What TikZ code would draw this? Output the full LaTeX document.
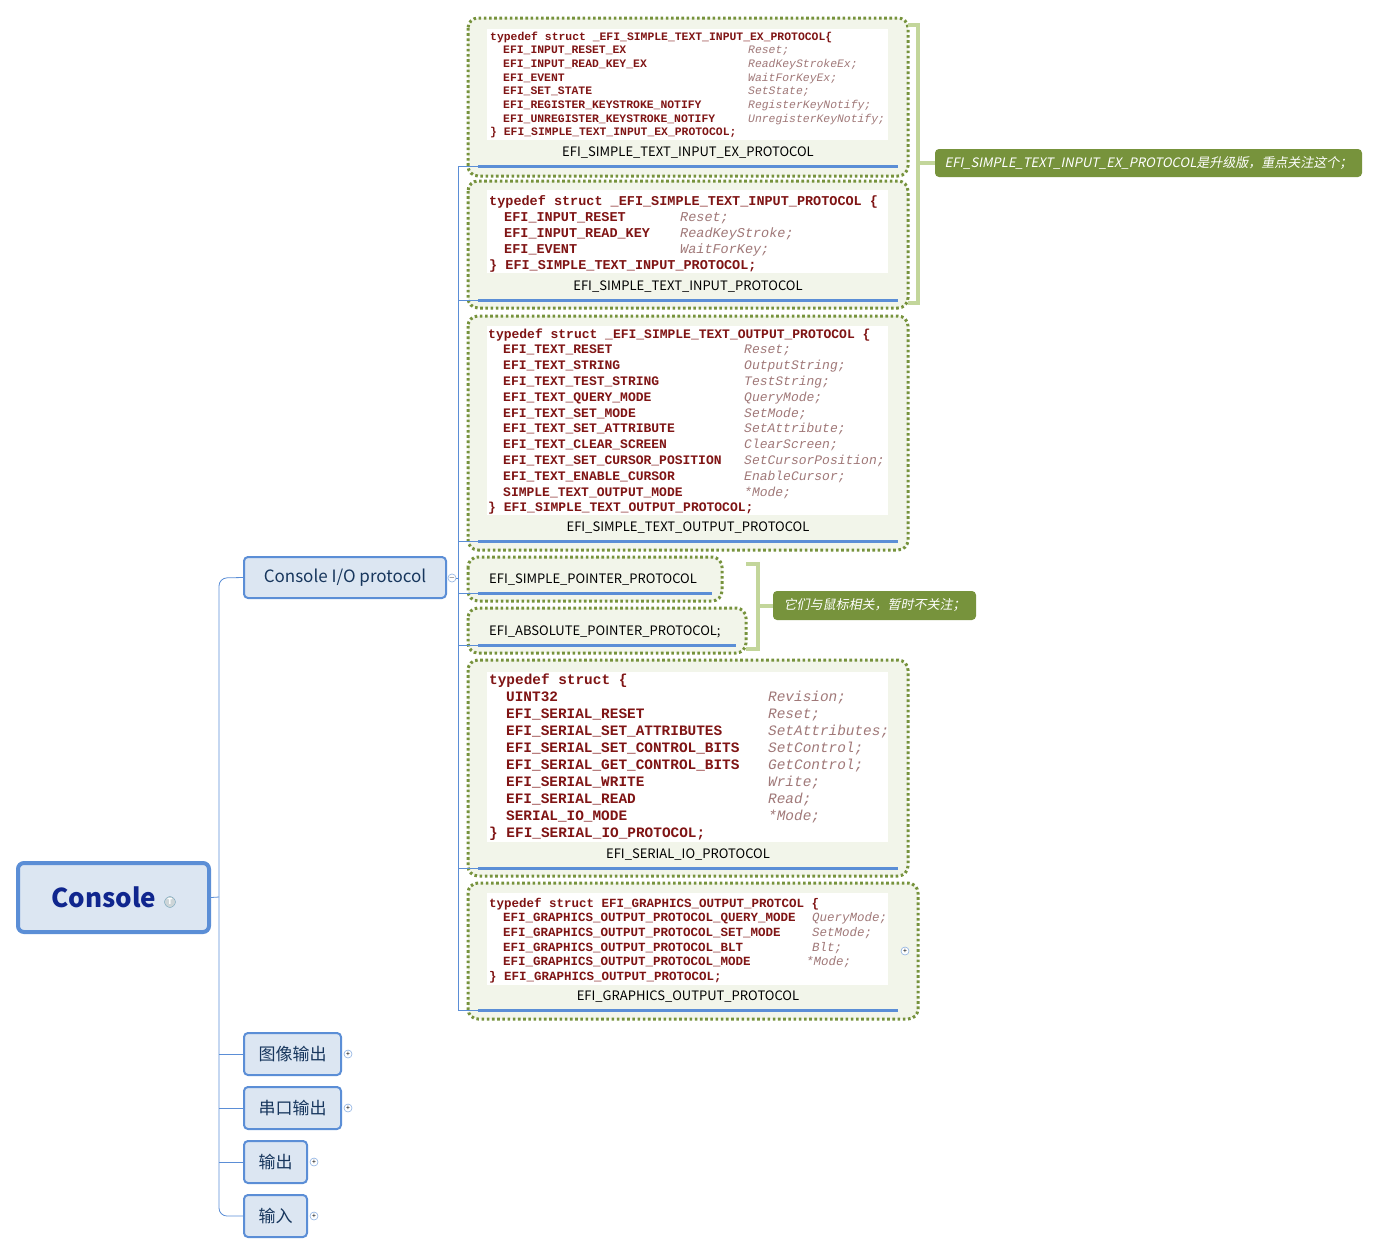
\documentclass[tikz,border=0pt]{standalone}
\usepackage{fontspec}
\setmainfont{Noto Sans CJK SC}
\setmonofont{Liberation Mono}
\newfontfamily\cjki{Noto Sans CJK SC}[FakeSlant=0.2]
\definecolor{codered}{HTML}{7F1414}
\definecolor{codeval}{HTML}{A07878}
\definecolor{boxfill}{HTML}{F2F5EA}
\definecolor{boxline}{HTML}{76923C}
\definecolor{blueline}{HTML}{5B8ED6}
\definecolor{nodefill}{HTML}{DCE6F2}
\definecolor{nodetext}{HTML}{17365D}
\definecolor{brace}{HTML}{C3D69B}
\definecolor{callout}{HTML}{77933C}
\newcommand{\cf}[1]{\fontsize{#1}{#1}\selectfont\ttfamily}
\begin{document}
\begin{tikzpicture}[x=1pt,y=-1pt,
  pbox/.style={draw=boxline,fill=boxfill,line width=3pt,dash pattern=on 2.6pt off 2.6pt,rounded corners=10pt},
  white/.style={fill=white,draw=none},
  uline/.style={draw=blueline,line width=3pt},
  conn/.style={draw=blueline,line width=0.8pt},
  lab/.style={font=\fontsize{13}{13}\selectfont,anchor=center,inner sep=0},
  nm/.style={anchor=base west,inner sep=0,text=codered,font=\bfseries},
  vl/.style={anchor=base west,inner sep=0,text=codeval,font=\itshape},
  topic/.style={draw=blueline,fill=nodefill,line width=2pt,rounded corners=4pt,text=nodetext,inner sep=0,font=\fontsize{17}{17}\selectfont},
  tog/.style={circle,draw=blueline!70,fill=white,inner sep=0,minimum size=8pt,line width=0.6pt,font=\fontsize{7}{7}\selectfont},
  br/.style={draw=brace,line width=4pt},
  co/.style={fill=callout,rounded corners=4pt,text=white,font=\cjki\fontsize{13}{13}\selectfont,inner sep=0}
]
\useasboundingbox (0,0) rectangle (1379,1253);
% ---- boxes
\draw[pbox] (468,18) rectangle (908,176);
\fill[white] (487,29) rectangle (888,140);
\draw[pbox] (468,181) rectangle (908,308);
\fill[white] (487,190) rectangle (888,273);
\draw[pbox] (468,316) rectangle (908,550);
\fill[white] (487,326) rectangle (888,515);
\draw[pbox] (468,557) rectangle (722,601);
\draw[pbox] (468,608) rectangle (746,653);
\draw[pbox] (468,660) rectangle (908,876);
\fill[white] (487,672) rectangle (888,842);
\draw[pbox] (468,883) rectangle (918,1019);
\fill[white] (487,893) rectangle (888,985);

% ---- box 1 code
\begin{scope}[every node/.append style={font=\cf{11.4}}]
\node[nm] (b1t) at (490,40) {\cf{11.4}\bfseries typedef struct \_EFI\_SIMPLE\_TEXT\_INPUT\_EX\_PROTOCOL\{};
\foreach \n/\v [count=\i] in {EFI\_INPUT\_RESET\_EX/Reset;,EFI\_INPUT\_READ\_KEY\_EX/ReadKeyStrokeEx;,EFI\_EVENT/WaitForKeyEx;,EFI\_SET\_STATE/SetState;,EFI\_REGISTER\_KEYSTROKE\_NOTIFY/RegisterKeyNotify;,EFI\_UNREGISTER\_KEYSTROKE\_NOTIFY/UnregisterKeyNotify;}{
  \node[nm] (b1n\i) at (503,{40+\i*13.7}) {\cf{11.4}\bfseries\n};
  \node[vl] (b1v\i) at (748,{40+\i*13.7}) {\cf{11.4}\itshape\v};
}
\node[nm] (b1e) at (490,{40+7*13.7}) {\cf{11.4}\bfseries\} EFI\_SIMPLE\_TEXT\_INPUT\_EX\_PROTOCOL;};
\end{scope}
\node[lab] (l1) at (688,153) {EFI\_SIMPLE\_TEXT\_INPUT\_EX\_PROTOCOL};
\draw[uline] (478,166) -- (898,166);

% ---- box 2
\node[nm] (b2t) at (489,205) {\cf{13.5}\bfseries typedef struct \_EFI\_SIMPLE\_TEXT\_INPUT\_PROTOCOL \{};
\foreach \n/\v [count=\i] in {EFI\_INPUT\_RESET/Reset;,EFI\_INPUT\_READ\_KEY/ReadKeyStroke;,EFI\_EVENT/WaitForKey;}{
  \node[nm] (b2n\i) at (504,{205+\i*16}) {\cf{13.5}\bfseries\n};
  \node[vl] (b2v\i) at (680,{205+\i*16}) {\cf{13.5}\itshape\v};
}
\node[nm] (b2e) at (489,{205+4*16}) {\cf{13.5}\bfseries\} EFI\_SIMPLE\_TEXT\_INPUT\_PROTOCOL;};
\node[lab] (l2) at (688,287) {EFI\_SIMPLE\_TEXT\_INPUT\_PROTOCOL};
\draw[uline] (478,300) -- (898,300);

% ---- box 3
\node[nm] (b3t) at (488,338) {\cf{13}\bfseries typedef struct \_EFI\_SIMPLE\_TEXT\_OUTPUT\_PROTOCOL \{};
\foreach \n/\v [count=\i] in {EFI\_TEXT\_RESET/Reset;,EFI\_TEXT\_STRING/OutputString;,EFI\_TEXT\_TEST\_STRING/TestString;,EFI\_TEXT\_QUERY\_MODE/QueryMode;,EFI\_TEXT\_SET\_MODE/SetMode;,EFI\_TEXT\_SET\_ATTRIBUTE/SetAttribute;,EFI\_TEXT\_CLEAR\_SCREEN/ClearScreen;,EFI\_TEXT\_SET\_CURSOR\_POSITION/SetCursorPosition;,EFI\_TEXT\_ENABLE\_CURSOR/EnableCursor;,SIMPLE\_TEXT\_OUTPUT\_MODE/*Mode;}{
  \node[nm] (b3n\i) at (503,{338+\i*15.8}) {\cf{13}\bfseries\n};
  \node[vl] (b3v\i) at (744,{338+\i*15.8}) {\cf{13}\itshape\v};
}
\node[nm] (b3e) at (488,{338+11*15.8}) {\cf{13}\bfseries\} EFI\_SIMPLE\_TEXT\_OUTPUT\_PROTOCOL;};
\node[lab] (l3) at (688,528) {EFI\_SIMPLE\_TEXT\_OUTPUT\_PROTOCOL};
\draw[uline] (478,541) -- (898,541);

% ---- box 4,5
\node[lab,anchor=west] (l4) at (489,580) {EFI\_SIMPLE\_POINTER\_PROTOCOL};
\draw[uline] (478,593) -- (712,593);
\node[lab,anchor=west] (l5) at (489,632) {EFI\_ABSOLUTE\_POINTER\_PROTOCOL;};
\draw[uline] (478,645) -- (736,645);

% ---- box 6
\node[nm] (b6t) at (489,684) {\cf{14.4}\bfseries typedef struct \{};
\foreach \n/\v [count=\i] in {UINT32/Revision;,EFI\_SERIAL\_RESET/Reset;,EFI\_SERIAL\_SET\_ATTRIBUTES/SetAttributes;,EFI\_SERIAL\_SET\_CONTROL\_BITS/SetControl;,EFI\_SERIAL\_GET\_CONTROL\_BITS/GetControl;,EFI\_SERIAL\_WRITE/Write;,EFI\_SERIAL\_READ/Read;,SERIAL\_IO\_MODE/*Mode;}{
  \node[nm] (b6n\i) at (506,{684+\i*17.1}) {\cf{14.4}\bfseries\n};
  \node[vl] (b6v\i) at (768,{684+\i*17.1}) {\cf{14.4}\itshape\v};
}
\node[nm] (b6e) at (489,{684+9*17.1}) {\cf{14.4}\bfseries\} EFI\_SERIAL\_IO\_PROTOCOL;};
\node[lab] (l6) at (688,855) {EFI\_SERIAL\_IO\_PROTOCOL};
\draw[uline] (478,868) -- (898,868);

% ---- box 7
\node[nm] (b7t) at (489,907) {\cf{12.5}\bfseries typedef struct EFI\_GRAPHICS\_OUTPUT\_PROTCOL \{};
\foreach \n/\v/\x [count=\i] in {EFI\_GRAPHICS\_OUTPUT\_PROTOCOL\_QUERY\_MODE/QueryMode;/812,EFI\_GRAPHICS\_OUTPUT\_PROTOCOL\_SET\_MODE/SetMode;/812,EFI\_GRAPHICS\_OUTPUT\_PROTOCOL\_BLT/Blt;/812,EFI\_GRAPHICS\_OUTPUT\_PROTOCOL\_MODE/*Mode;/806}{
  \node[nm] (b7n\i) at (503,{907+\i*14.7}) {\cf{12.5}\bfseries\n};
  \node[vl] (b7v\i) at (\x,{907+\i*14.7}) {\cf{12.5}\itshape\v};
}
\node[nm] (b7e) at (489,{907+5*14.7}) {\cf{12.5}\bfseries\} EFI\_GRAPHICS\_OUTPUT\_PROTOCOL;};
\node[lab] (l7) at (688,997) {EFI\_GRAPHICS\_OUTPUT\_PROTOCOL};
\draw[uline] (478,1010) -- (898,1010);
\node[tog] (t7) at (905,951) {+};

% ---- braces & callouts
\draw[br] (908,25) -- (918,25) -- (918,303) -- (908,303);
\draw[br] (918,163) -- (935,163);
\node[co,minimum width=427pt,minimum height=28pt] (c1) at (1148.5,163) {EFI\_SIMPLE\_TEXT\_INPUT\_EX\_PROTOCOL是升级版，重点关注这个；};
\draw[br] (746,564) -- (758,564) -- (758,649) -- (746,649);
\draw[br] (758,606) -- (773,606);
\node[co,minimum width=203pt,minimum height=29pt] (c2) at (874.5,605.5) {它们与鼠标相关，暂时不关注；};

% ---- topic nodes
\node[topic,minimum width=191pt,minimum height=69pt,line width=4pt,rounded corners=6pt,font=\fontsize{26}{26}\selectfont\bfseries,text=nodetext!70!blue] (root) at (113.5,897.5) {Console\hspace{8pt}\tikz\node[draw=gray!60!cyan,fill=cyan!15!gray!40,inner sep=0,minimum size=11pt,font=\fontsize{8}{8}\selectfont\bfseries,text=white]{T};};
\node[topic,minimum width=202pt,minimum height=41pt] (cio) at (345,577.5) {Console I/O protocol};
\node[topic,minimum width=97pt,minimum height=42pt] (n1) at (292.5,1054) {图像输出};
\node[topic,minimum width=97pt,minimum height=42pt] (n2) at (292.5,1108) {串口输出};
\node[topic,minimum width=63pt,minimum height=42pt] (n3) at (275.5,1162) {输出};
\node[topic,minimum width=63pt,minimum height=42pt] (n4) at (275.5,1216) {输入};
\node[tog] (tc) at (452,578) {$-$};
\node[tog] (t1) at (348,1054) {+};
\node[tog] (t2) at (348,1108) {+};
\node[tog] (t3) at (314,1162) {+};
\node[tog] (t4) at (314,1216) {+};

% ---- connectors
\coordinate (v0) at (219,897);
\draw[conn] (root.east) -- (v0);
\draw[conn,rounded corners=8pt] (cio.west) -- (219,578) -- (219,1216) -- (n4.west);
\foreach \k/\y in {n1/1054,n2/1108,n3/1162}{\draw[conn] (219,\y) -- (\k.west);}
\coordinate (vt) at (458,166);
\coordinate (vb) at (458,1010);
\draw[conn] (tc.east) -- (458,578);
\draw[conn] (vt) -- (vb);
\foreach \y in {166,300,541,593,645,868,1010}{\draw[conn] (458,\y) -- (478,\y);}
\end{tikzpicture}
\end{document}
